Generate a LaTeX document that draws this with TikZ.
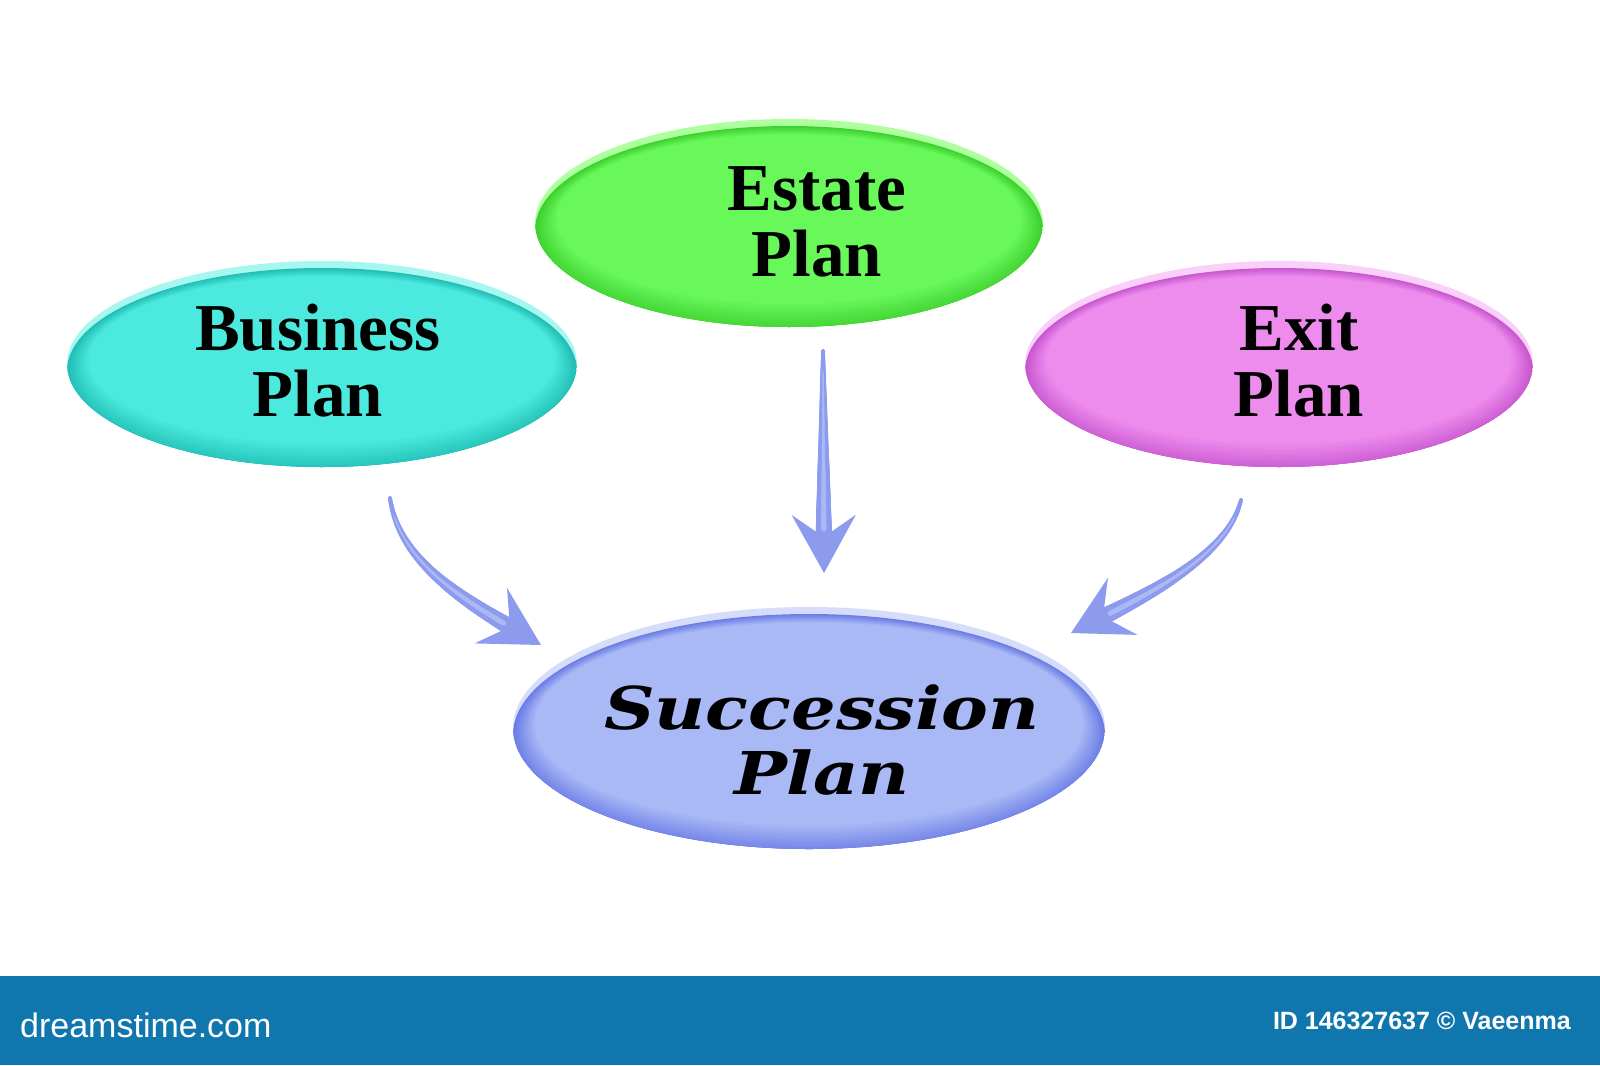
\documentclass[tikz,border=0pt]{standalone}
\usepackage{fontspec}
\setmainfont{Liberation Serif}
\newfontfamily\succfont{DejaVu Serif}
\newfontfamily\barfont{Liberation Sans}
\usepackage{graphicx}
\usetikzlibrary{arrows.meta,shapes.geometric,decorations.markings}
\definecolor{busL}{HTML}{A6F7F0}
\definecolor{busD}{HTML}{1FBDB3}
\definecolor{busM}{HTML}{4CEADE}
\definecolor{estL}{HTML}{AEFF9E}
\definecolor{estD}{HTML}{3CD02D}
\definecolor{estM}{HTML}{68F85A}
\definecolor{extL}{HTML}{FAD0FA}
\definecolor{extD}{HTML}{C756CF}
\definecolor{extM}{HTML}{EE8CEE}
\definecolor{sucL}{HTML}{D6DDFB}
\definecolor{sucD}{HTML}{6A7BE6}
\definecolor{sucM}{HTML}{A9B9F5}
\definecolor{arrowc}{HTML}{8D9BEE}
\definecolor{arrowl}{HTML}{ABB8F6}
\definecolor{barblue}{HTML}{1077AE}
\tikzset{
  bubble/.style n args={5}{ellipse, inner sep=0pt,
    minimum width={2*#4pt}, minimum height={2*#5pt}, fill=#1,
    path picture={
      \path (path picture bounding box.center) coordinate (pc);
      \fill[#2] ([yshift=-7pt]pc) ellipse [x radius=#4pt, y radius=#5pt];
      \foreach \i in {1,...,12}{
        \pgfmathtruncatemacro\bbp{\i*100/12}
        \pgfmathsetmacro\bbdy{-7+\i*0.9}
        \pgfmathsetmacro\bbrx{#4-\i*1.8}
        \pgfmathsetmacro\bbry{#5-\i*1.6}
        \fill[#3!\bbp!#2] ([yshift=\bbdy pt]pc) ellipse [x radius=\bbrx pt, y radius=\bbry pt];
      }
    }},
  lbl/.style={inner sep=0pt, align=center, text=black,
    font=\fontsize{67}{66}\selectfont\bfseries},
  taper/.style={decorate, decoration={markings,
    mark=between positions 0 and -36pt step 1pt with {
      \pgfmathsetmacro\tprr{2+7.5*\pgfkeysvalueof{/pgf/decoration/mark info/distance from start}/\pgfdecoratedpathlength}
      \fill[arrowc] (0,0) circle[radius=\tprr pt];}}},
  taperhi/.style={decorate, decoration={markings,
    mark=between positions 20pt and -44pt step 1pt with {
      \pgfmathsetmacro\tprh{0.6+2.6*\pgfkeysvalueof{/pgf/decoration/mark info/distance from start}/\pgfdecoratedpathlength}
      \fill[arrowl] (0,0) circle[radius=\tprh pt];}}},
  headarr/.style={draw=arrowc, line width=3pt,
    -{Stealth[length=58pt, width=64pt, inset=22pt]}},
}
\newcommand\taperarrow[1]{%
  \path[taper] #1;
  \draw[headarr] #1;
  \path[taperhi] #1;
}
\begin{document}
\begin{tikzpicture}[x=1pt,y=-1pt]
\useasboundingbox (0,0) rectangle (1600,1065);
\fill[white] (0,0) rectangle (1600,1065);

% ellipses
\node[bubble={busL}{busD}{busM}{255}{103}] (bus) at (322,364) {};
\node[bubble={estL}{estD}{estM}{254}{104}] (est) at (789,223) {};
\node[bubble={extL}{extD}{extM}{254}{103}] (ext) at (1279,364) {};
\node[bubble={sucL}{sucD}{sucM}{296}{121}] (suc) at (809,728) {};

% labels
\node[lbl] (bust) at (318,361) {Business\\Plan};
\node[lbl] (estt) at (817,222) {Estate\\Plan};
\node[lbl] (extt) at (1299,361) {Exit\\Plan};
\node[inner sep=0pt, align=center, text=black,
  font=\fontsize{59}{65}\selectfont\succfont\bfseries\itshape] (suct) at (822,740)
  {\scalebox{1.19}[1]{Succession}\\\scalebox{1.19}[1]{Plan}};

% connector end points
\coordinate (s1) at ([shift={(68,134)}]bus.center);
\coordinate (e1) at ([shift={(-268,-83)}]suc.center);
\coordinate (s2) at ([shift={(34,128)}]est.center);
\coordinate (e2) at ([shift={(15,-155)}]suc.center);
\coordinate (s3) at ([shift={(-38,136)}]ext.center);
\coordinate (e3) at ([shift={(262,-95)}]suc.center);

% arrows
\taperarrow{(s1) .. controls +(10,70) and +(-65,-38) .. (e1)}
\taperarrow{(s2) -- (e2)}
\taperarrow{(s3) .. controls +(-15,62) and +(62,-32) .. (e3)}

% bottom bar
\fill[barblue] (0,976) rectangle (1600,1065);
\node[anchor=base west, inner sep=0pt, text=white,
  font=\fontsize{34}{40}\selectfont\barfont] (logo) at (20,1037) {dreamstime.com};
\node[anchor=base east, inner sep=0pt, text=white,
  font=\fontsize{25}{30}\selectfont\barfont\bfseries] (idt) at (1571,1029) {ID 146327637 © Vaeenma};
\end{tikzpicture}
\end{document}
